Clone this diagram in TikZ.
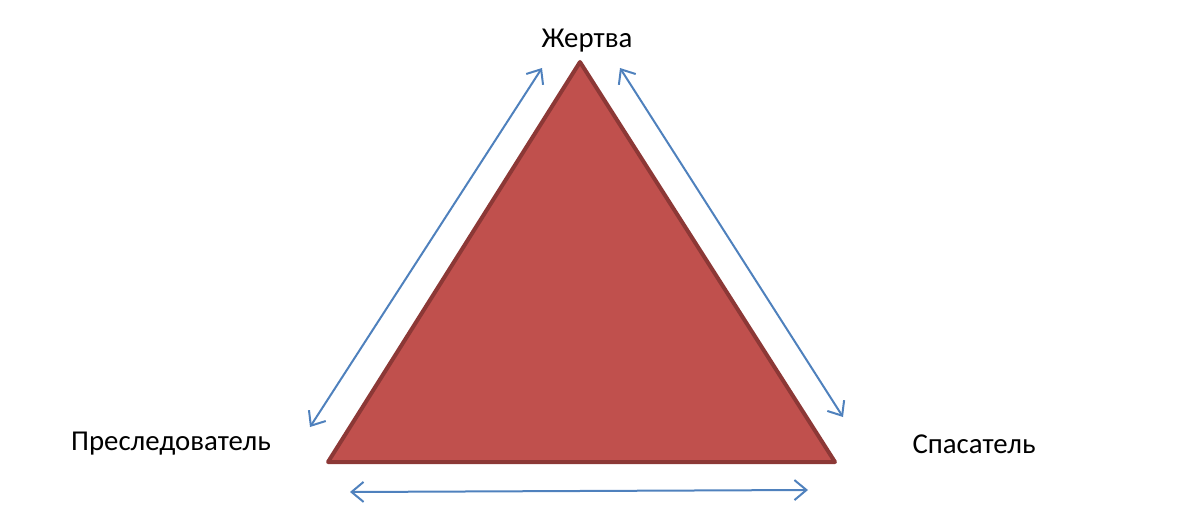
\documentclass[tikz,border=0pt]{standalone}
\usepackage{fontspec}
\setmainfont{Carlito}
\usetikzlibrary{arrows.meta}
\definecolor{trifill}{HTML}{C0504D}
\definecolor{triline}{HTML}{8C3836}
\definecolor{arrblue}{HTML}{4F81BD}
\tikzset{
  role/.style={font=\fontsize{28.8}{32}\selectfont, inner sep=0pt},
  both/.style={draw=arrblue, line width=2pt,
    {Straight Barb[length=12pt,width=20pt,line width=2pt]}-{Straight Barb[length=12pt,width=20pt,line width=2pt]}}
}
\begin{document}
\begin{tikzpicture}[x=1pt,y=-1pt]
    \useasboundingbox (0,0) rectangle (1200,527);
    % corners of the triangle
    \coordinate (top) at (580,62);
    \coordinate (bl) at (328,462);
    \coordinate (br) at (835,462);
    \filldraw[fill=trifill, draw=triline, line width=4pt, line join=round]
        (top) -- (br) -- (bl) -- cycle;
    % roles
    \node[role](victim) at (587,41){Жертва};
    \node[role](persecutor) at (171,444){Преследователь};
    \node[role](rescuer) at (974,444){Спасатель};
    % arrow ends
    \coordinate (l1) at (542,68);
    \coordinate (l2) at (310,427);
    \coordinate (r1) at (620,68);
    \coordinate (r2) at (843,417);
    \coordinate (b1) at (350,492);
    \coordinate (b2) at (808,490);
    \draw[both] (l1) -- (l2);
    \draw[both] (r1) -- (r2);
    \draw[both] (b1) -- (b2);
\end{tikzpicture}
\end{document}
